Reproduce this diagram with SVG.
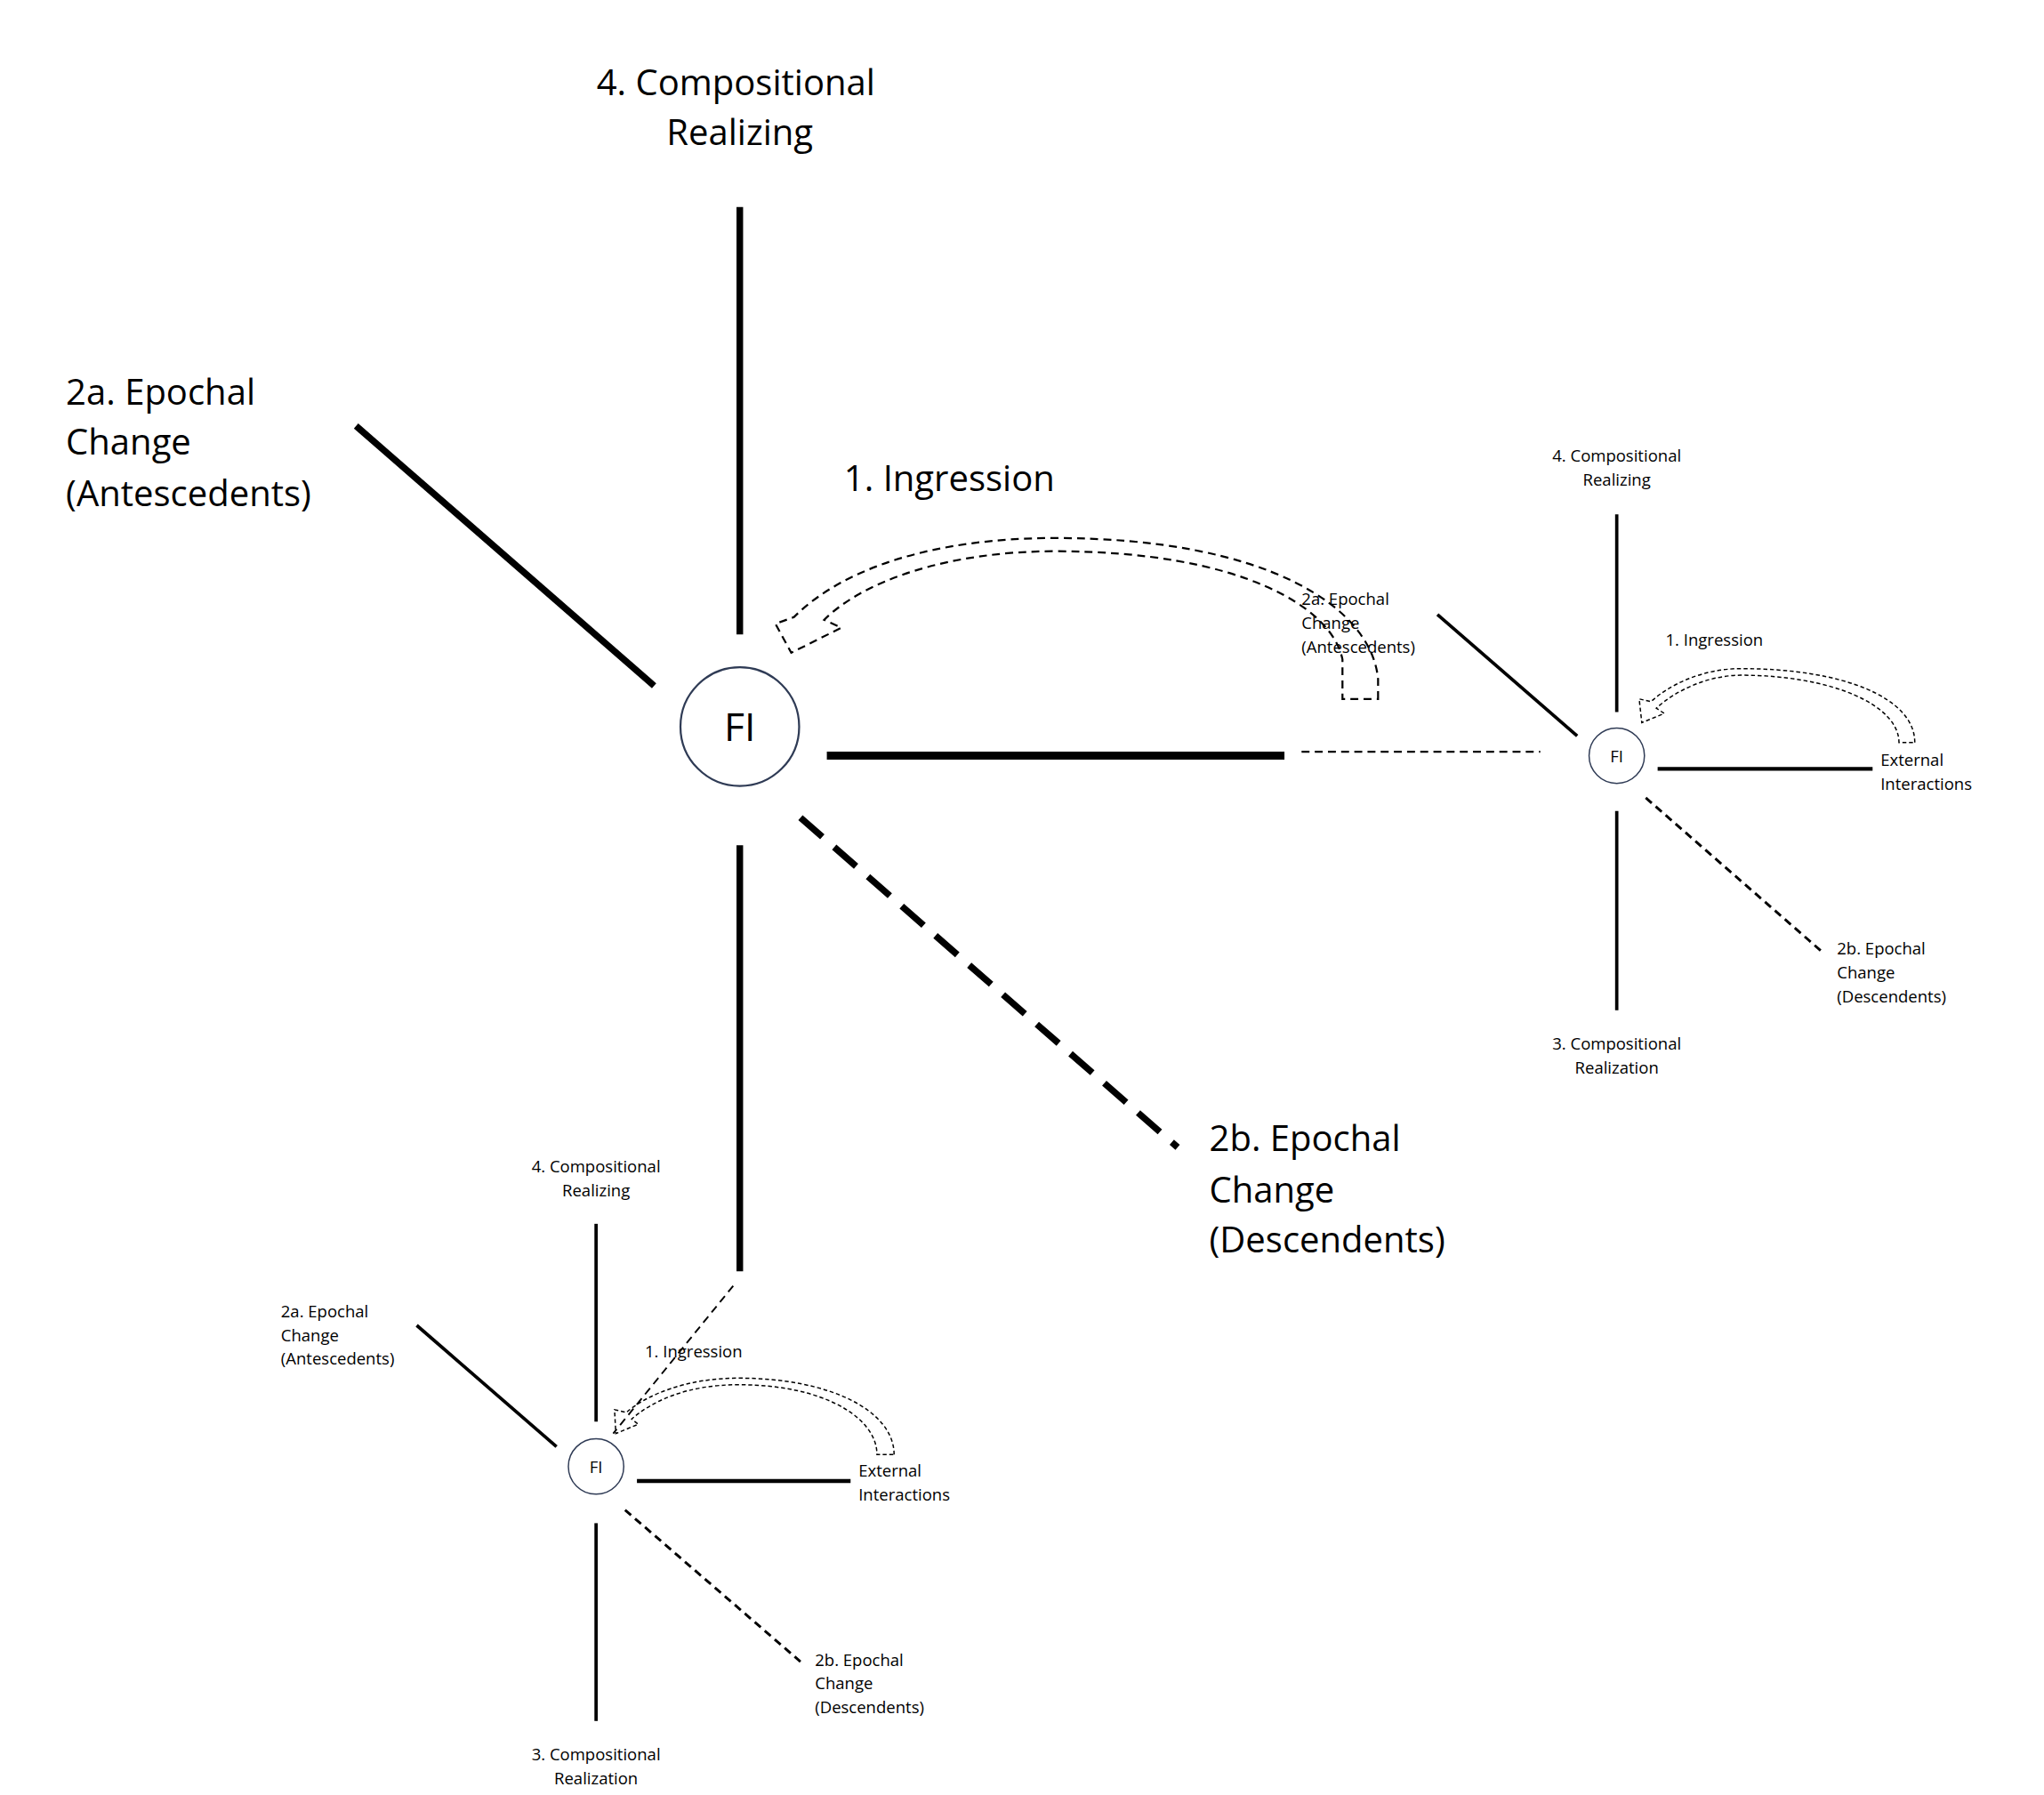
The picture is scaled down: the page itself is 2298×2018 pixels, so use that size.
<svg xmlns="http://www.w3.org/2000/svg" width="2298" height="2018" viewBox="0 0 2298 2018">
<style>
text{font-family:"Open Sans","Noto Sans",sans-serif;fill:#000}
.L{font-size:27px}.S{font-size:12.5px}.m{text-anchor:middle}
.ln{stroke:#000;fill:none}
.circ{fill:#fff;stroke:#2f3b55}
.arr{fill:none;stroke:#000}
</style>
<rect width="2298" height="2018" fill="#fff"/>
<g transform="scale(1.4826)">
<g id="connectors">
<line class="ln" x1="561" y1="157" x2="561" y2="481" stroke-width="5"/>
<line class="ln" x1="270" y1="323" x2="496" y2="520" stroke-width="5"/>
<line class="ln" x1="627" y1="573" x2="974" y2="573" stroke-width="6"/>
<line class="ln" x1="987" y1="570" x2="1168" y2="570" stroke-width="1.5" stroke-dasharray="6,4"/>
<line class="ln" x1="561" y1="641" x2="561" y2="964" stroke-width="5"/>
<line class="ln" x1="607" y1="620" x2="893" y2="870" stroke-width="5" stroke-dasharray="22,12"/>
<path class="arr" stroke-width="1.5" stroke-dasharray="6,4" d="M1045,530 L1045,515 C1040,460 960,408 800,408 C710,408 640,430 602,468 L588,473 L600,495 L638,476 L625,470 C655,440 720,418 800,418 C940,418 1010,460 1018,500 L1018,530 Z"/>
<line class="ln" x1="1226" y1="390" x2="1226" y2="540" stroke-width="2.5"/>
<line class="ln" x1="1090" y1="466" x2="1196" y2="558" stroke-width="2.5"/>
<line class="ln" x1="1257" y1="583" x2="1420" y2="583" stroke-width="3"/>
<line class="ln" x1="1226" y1="615" x2="1226" y2="766" stroke-width="2.5"/>
<line class="ln" x1="1248" y1="605" x2="1382" y2="722" stroke-width="2" stroke-dasharray="6,4"/>
<path class="arr" stroke-width="1" stroke-dasharray="3,2" d="M1452,563 C1452,530 1400,507 1320,507 C1290,507 1265,520 1252,532 L1243,530 L1245,548 L1262,541 L1256,537 C1270,524 1295,512 1320,512 C1390,512 1440,535 1440,563 Z"/>
<line class="ln" x1="452" y1="928" x2="452" y2="1078" stroke-width="2.5"/>
<line class="ln" x1="316" y1="1005" x2="422" y2="1097" stroke-width="2.5"/>
<line class="ln" x1="483" y1="1123" x2="645" y2="1123" stroke-width="3"/>
<line class="ln" x1="452" y1="1155" x2="452" y2="1305" stroke-width="2.5"/>
<line class="ln" x1="474" y1="1145" x2="607" y2="1260" stroke-width="2" stroke-dasharray="6,4"/>
<line class="ln" x1="556" y1="975" x2="465" y2="1087" stroke-width="1.3" stroke-dasharray="6,4"/>
<path class="arr" stroke-width="1" stroke-dasharray="3,2" d="M678,1103 C678,1070 630,1045 560,1045 C520,1045 490,1058 475,1071 L466,1069 L467,1087 L484,1080 L479,1076 C494,1063 520,1050 560,1050 C625,1050 665,1075 665,1103 Z"/>
</g>
<g id="main">
<circle class="circ" cx="561" cy="551" r="45" stroke-width="1.5"/>
<text class="m" x="561" y="562" font-size="30">FI</text>
<text class="L m" x="558" y="72">4. Compositional</text>
<text class="L m" x="561" y="110">Realizing</text>
<text class="L" x="50" y="307">2a. Epochal</text>
<text class="L" x="50" y="345">Change</text>
<text class="L" x="50" y="384">(Antescedents)</text>
<text class="L" x="640" y="372">1. Ingression</text>
<text class="L" x="917" y="873">2b. Epochal</text>
<text class="L" x="917" y="912">Change</text>
<text class="L" x="917" y="950">(Descendents)</text>
</g>
<g id="right">
<circle class="circ" cx="1226" cy="573" r="21" stroke-width="1"/>
<text class="S m" x="1226" y="578">FI</text>
<text class="S m" x="1226" y="350">4. Compositional</text>
<text class="S m" x="1226" y="368">Realizing</text>
<text class="S" x="987" y="459">2a. Epochal</text>
<text class="S" x="987" y="477">Change</text>
<text class="S" x="987" y="495">(Antescedents)</text>
<text class="S" x="1263" y="490">1. Ingression</text>
<text class="S" x="1426" y="581">External</text>
<text class="S" x="1426" y="599">Interactions</text>
<text class="S" x="1393" y="724">2b. Epochal</text>
<text class="S" x="1393" y="742">Change</text>
<text class="S" x="1393" y="760">(Descendents)</text>
<text class="S m" x="1226" y="796">3. Compositional</text>
<text class="S m" x="1226" y="814">Realization</text>
</g>
<g id="bottom">
<circle class="circ" cx="452" cy="1112" r="21" stroke-width="1"/>
<text class="S m" x="452" y="1117">FI</text>
<text class="S m" x="452" y="889">4. Compositional</text>
<text class="S m" x="452" y="907">Realizing</text>
<text class="S" x="213" y="999">2a. Epochal</text>
<text class="S" x="213" y="1017">Change</text>
<text class="S" x="213" y="1035">(Antescedents)</text>
<text class="S" x="489" y="1029">1. Ingression</text>
<text class="S" x="651" y="1120">External</text>
<text class="S" x="651" y="1138">Interactions</text>
<text class="S" x="618" y="1263">2b. Epochal</text>
<text class="S" x="618" y="1281">Change</text>
<text class="S" x="618" y="1299">(Descendents)</text>
<text class="S m" x="452" y="1335">3. Compositional</text>
<text class="S m" x="452" y="1353">Realization</text>
</g>
</g>
</svg>
